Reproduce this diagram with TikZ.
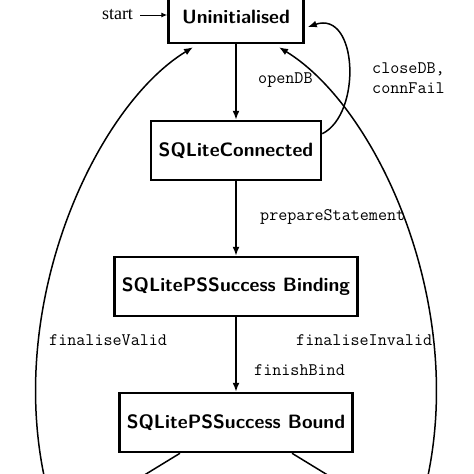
\documentclass[tikz,border=0pt]{standalone}
\usepackage{fontspec}
\newfontfamily\startfont{Liberation Serif}
\usetikzlibrary{arrows.meta,calc}
\begin{document}
\begin{tikzpicture}[x=1pt,y=-1pt,
  state/.style={draw, line width=2.5pt, inner sep=0pt, font=\sffamily\bfseries\fontsize{19.3}{23}\selectfont},
  lbl/.style={font=\ttfamily\fontsize{17.6}{20}\selectfont, inner sep=0pt, anchor=west, align=left},
  conn/.style={line width=1.5pt, -{Latex[length=9pt,width=7pt]}},
  plainline/.style={line width=1.5pt}]
\useasboundingbox (0,0) rectangle (474,474);
\clip (0,0) rectangle (474,474);

\node[state, minimum width=135pt, minimum height=51pt] (un) at (236,17.5) {Uninitialised};
\node[state, minimum width=170pt, minimum height=59pt] (con) at (236,150.5) {SQLiteConnected};
\node[state, minimum width=243pt, minimum height=59pt] (bind) at (236,286.5) {SQLitePSSuccess Binding};
\node[state, minimum width=233pt, minimum height=59pt] (bound) at (236,422.5) {SQLitePSSuccess Bound};

\node[font=\startfont\fontsize{18}{21}\selectfont, inner sep=0pt] (st) at (117.5,15) {start};
\draw[line width=1pt, -{Latex[length=6pt,width=5pt]}, shorten <=7pt] (st.east) -- (st.east -| un.west);

\draw[conn] (un) -- (con);
\draw[conn] (con) -- (bind);
\draw[conn] (bind) -- (bound);

\coordinate (loopstart) at ($(con.north east)+(0,14)$);
\coordinate (loopend) at ($(un.east)+(3,9.5)$);
\draw[conn] (loopstart) .. controls +(40,-20) and +(50,-17) .. (loopend);

\coordinate (la) at (56,520);
\coordinate (ra) at (416,520);
\coordinate (lend) at ($(un.south)+(-43,3)$);
\coordinate (rend) at ($(un.south)+(43,3)$);
\draw[conn] (la) .. controls (-8,330) and (90,110) .. (lend);
\draw[conn] (ra) .. controls (480,330) and (382,110) .. (rend);

\coordinate (bl) at ($(bound.south)+(-56,0)$);
\coordinate (br) at ($(bound.south)+(56,0)$);
\coordinate (blo) at ($(bl)+(-72,44)$);
\coordinate (bro) at ($(br)+(72,44)$);
\draw[plainline] (bl) -- (blo);
\draw[plainline] (br) -- (bro);

\node[lbl] (lopen) at (258,80) {openDB};
\node[lbl] (lclose) at (372,78) {closeDB,\\connFail};
\node[lbl] (lprep) at (260,217) {prepareStatement};
\node[lbl] (lfinish) at (254,370) {finishBind};
\node[lbl] (lvalid) at (49,340) {finaliseValid};
\node[lbl] (linvalid) at (296,340) {finaliseInvalid};
\end{tikzpicture}
\end{document}
